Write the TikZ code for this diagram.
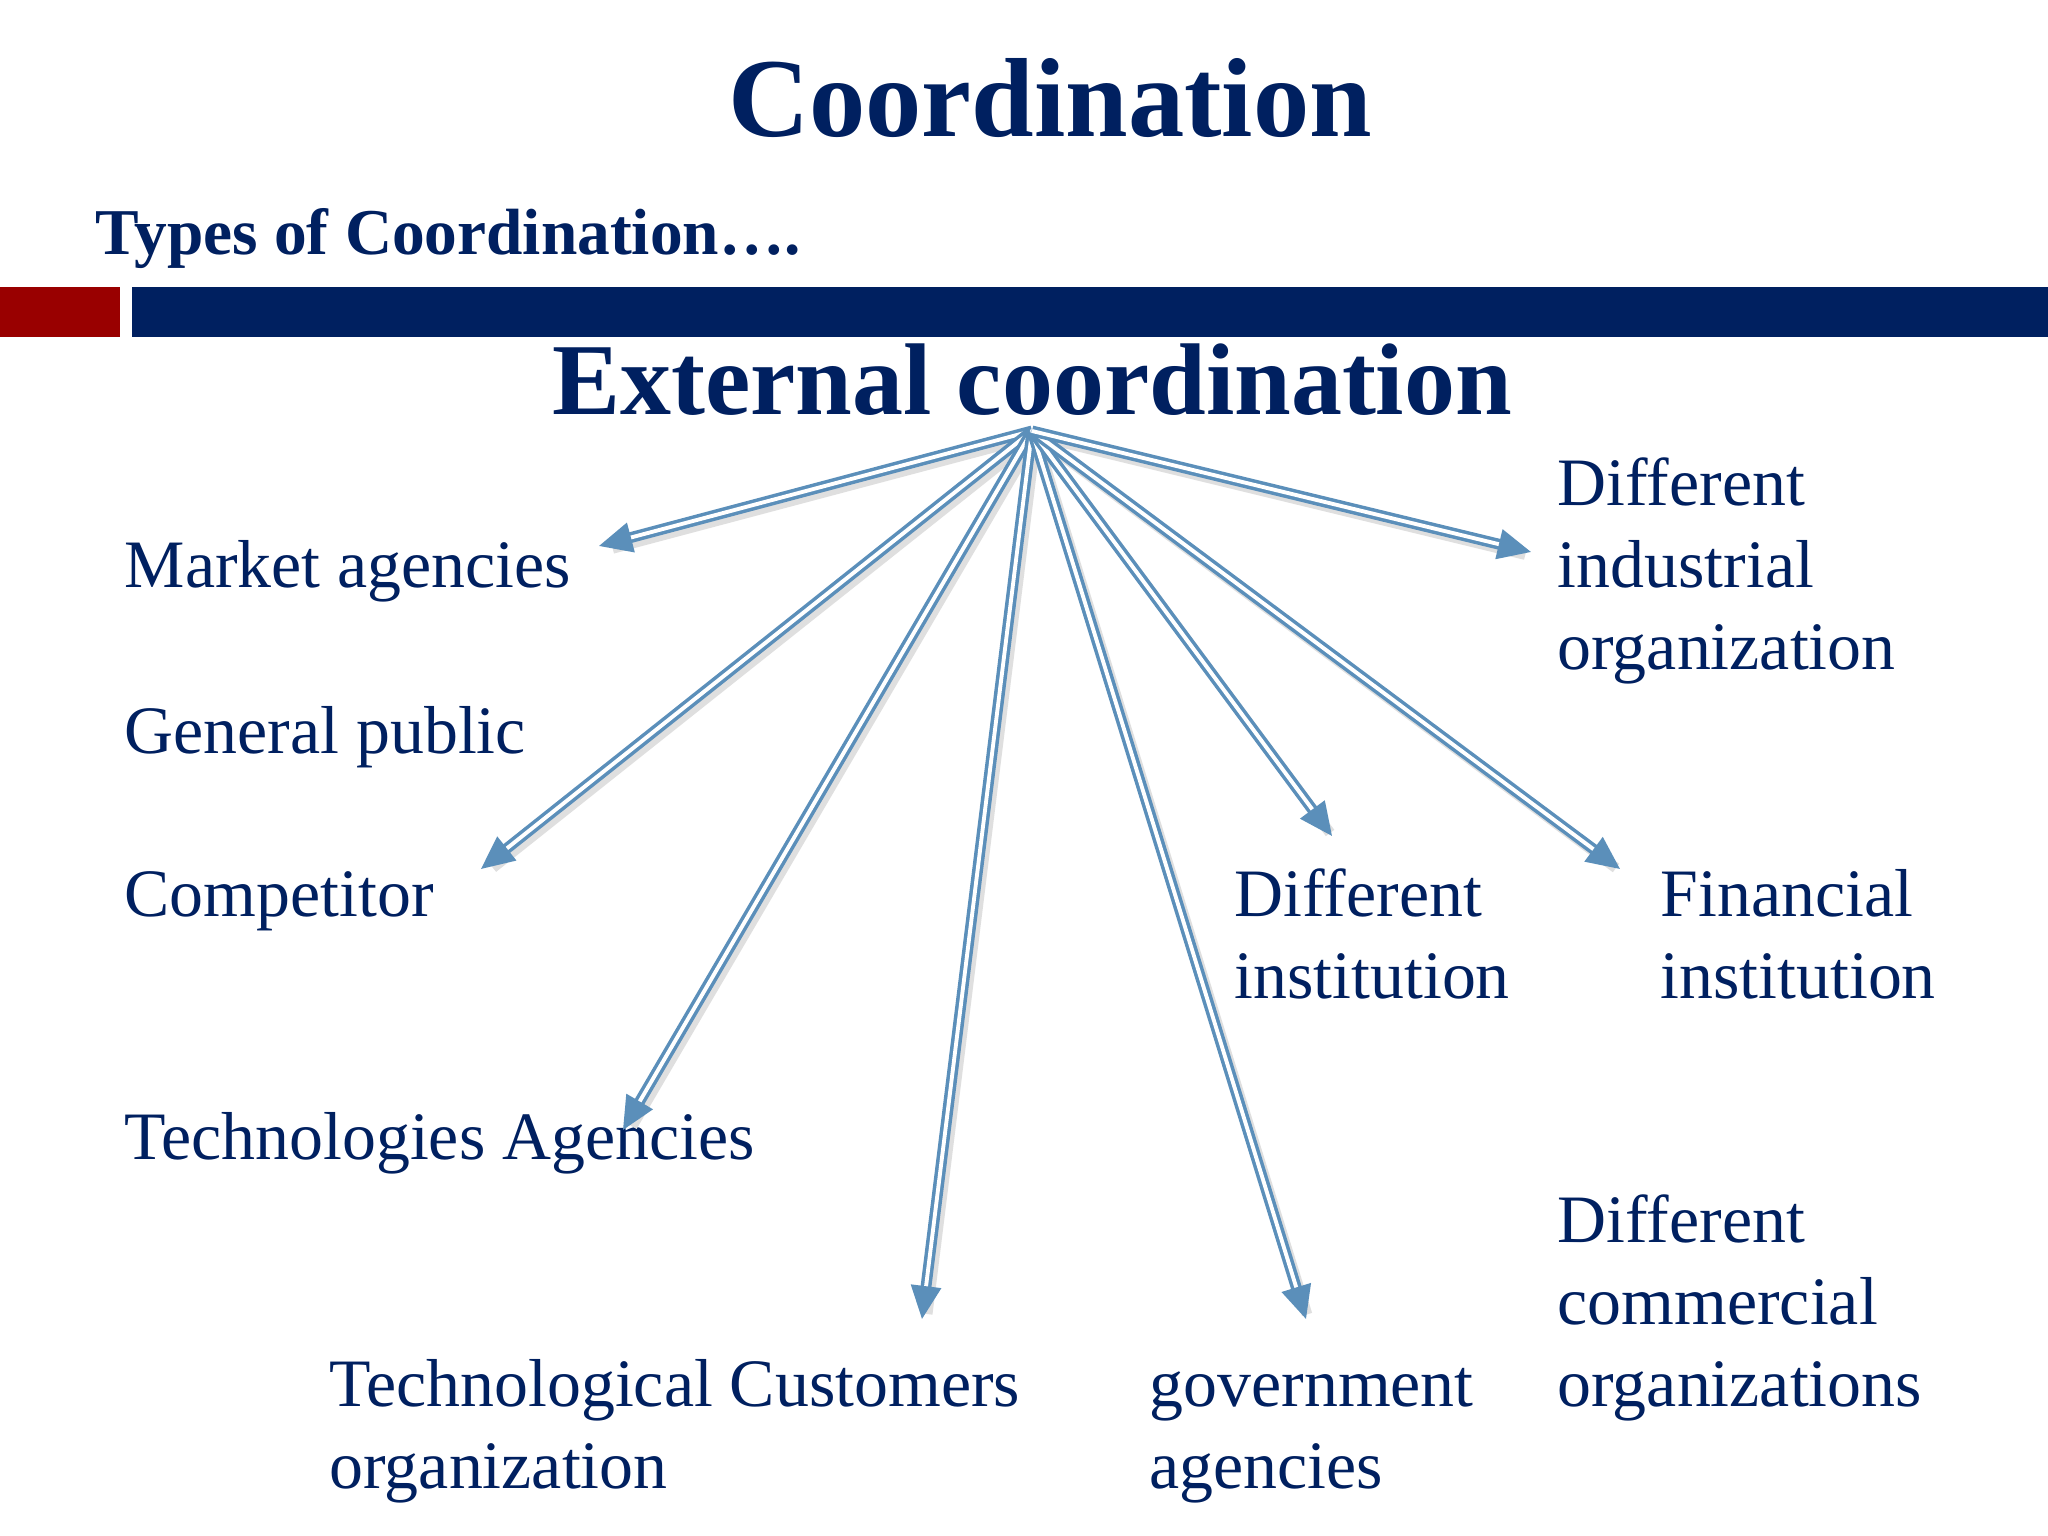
\documentclass[tikz,border=0pt]{standalone}
\usepackage{fontspec}
\setmainfont{Liberation Serif}
\usepackage{xcolor}
\usepackage{tikz}
\usetikzlibrary{arrows.meta}

\definecolor{navy}{HTML}{002060}
\definecolor{barred}{HTML}{990000}
\definecolor{arrowblue}{HTML}{5B8FBA}

\begin{document}
\begin{tikzpicture}[
    every node/.style={text=navy, inner sep=0pt},
    item/.style={anchor=base west, align=left, font=\fontsize{19.3}{23.4}\selectfont},
    link/.style={arrowblue, line width=1pt, double=white, double distance=1.1pt,
        -{Triangle[length=0.33cm, width=0.30cm]}},
    linkshadow/.style={gray!25, line width=3pt, shorten >=0.1cm}
]

\useasboundingbox (0,0) rectangle (20.48,15.36);
\fill[white] (0,0) rectangle (20.48,15.36);

% Title and heading
\node[anchor=base, font=\fontsize{32}{38}\selectfont\bfseries] (title) at (10.50,13.99) {Coordination};
\node[anchor=base west, font=\fontsize{18.6}{22}\selectfont\bfseries] (types) at (0.95,12.81) {Types of Coordination….};

% Bars
\fill[barred] (0,11.99) rectangle (1.20,12.49);
\fill[navy] (1.32,11.99) rectangle (20.48,12.49);

\node[anchor=base, font=\fontsize{29}{34}\selectfont\bfseries] (ext) at (10.32,11.21) {External coordination};
\coordinate (src) at (10.32,11.05);

% Items (multi-line nodes sit on their last baseline)
\node[item] (market) at (1.24,9.48) {Market agencies};
\node[item] (public) at (1.24,7.82) {General public};
\node[item] (comp) at (1.24,6.19) {Competitor};
\node[item] (techag) at (1.24,3.76) {Technologies Agencies};
\node[item] (techcust) at (3.29,0.47) {Technological Customers\\organization};
\node[item] (gov) at (11.49,0.47) {government\\agencies};
\node[item] (comm) at (15.57,1.29) {Different\\commercial\\organizations};
\node[item] (inst) at (12.34,5.37) {Different\\institution};
\node[item] (fin) at (16.60,5.37) {Financial\\institution};
\node[item] (indus) at (15.57,8.66) {Different\\industrial\\organization};

% Arrow tips
\coordinate (t1) at (5.99,9.90);
\coordinate (t2) at (4.81,6.67);
\coordinate (t3) at (6.23,4.06);
\coordinate (t4) at (9.22,2.17);
\coordinate (t5) at (13.06,2.17);
\coordinate (t6) at (13.32,7.00);
\coordinate (t7) at (16.20,6.67);
\coordinate (t8) at (15.31,9.84);

% Arrows with a light shadow
\foreach \t in {t1,t2,t3,t4,t5,t6,t7,t8} {
    \draw[linkshadow] ([shift={(0.04,-0.05)}]src) -- ([shift={(0.04,-0.05)}]\t);
}
\foreach \t in {t1,t2,t3,t4,t5,t6,t7,t8} {
    \draw[link] (src) -- (\t);
}

\end{tikzpicture}
\end{document}
